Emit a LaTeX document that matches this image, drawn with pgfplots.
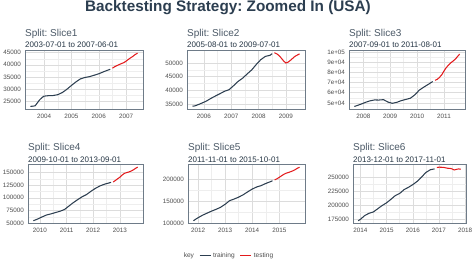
\documentclass[border=0pt]{standalone}
\usepackage{fontspec}
\setmainfont{Liberation Sans}
\usepackage{pgfplots}
\pgfplotsset{compat=1.18}
\frenchspacing
\definecolor{tqblue}{HTML}{2C3E50}
\definecolor{tqred}{HTML}{E31A1C}
\definecolor{bordercol}{HTML}{6E7B88}
\definecolor{gridmaj}{HTML}{DCDCDC}
\definecolor{gridmin}{HTML}{EEEEEE}
\definecolor{ticktext}{HTML}{4D4D4D}
\definecolor{ptitle}{HTML}{4A5866}
\pgfplotsset{
  panel/.style={
    scale only axis, height=59pt, anchor=north west,
    axis line style={draw=bordercol, line width=0.7pt},
    grid=both, minor tick num=1,
    major grid style={draw=gridmaj, line width=0.5pt},
    minor grid style={draw=gridmin, line width=0.4pt},
    major tick length=0pt, minor tick length=0pt,
    ticklabel style={font=\fontsize{6.3}{7}\selectfont, text=ticktext},
    xticklabel style={yshift=-1.5pt},
    yticklabel style={xshift=-0.5pt},
    /pgf/number format/assume math mode=true,
    /pgf/number format/fixed, /pgf/number format/1000 sep={},
    scaled ticks=false,
  },
  train/.style={draw=tqblue, line width=1.05pt},
  test/.style={draw=tqred, line width=1.05pt},
}
\newcommand{\ptitle}[3]{%
  \node[anchor=base west, inner sep=0pt, text=ptitle, font=\fontsize{10}{12}\selectfont] at (#1pt,#2pt) {#3};}
\newcommand{\psub}[3]{%
  \node[anchor=base west, inner sep=0pt, text=tqblue!85!black, font=\fontsize{8}{10}\selectfont] at (#1pt,#2pt) {#3};}
\begin{document}
\begin{tikzpicture}
\useasboundingbox (0,0) rectangle (474pt,262pt);
\node[anchor=base, inner sep=0pt, text=tqblue, font=\fontsize{15.3}{18}\selectfont\bfseries] at (228pt,250pt) {Backtesting Strategy: Zoomed In (USA)};
% ---------------- Panel 1
\begin{axis}[panel, at={(25pt,212pt)}, width=118pt,
  xmin=2003.30, xmax=2007.62, ymin=21800, ymax=46100,
  xtick={2004,2005,2006,2007}, ytick={25000,30000,35000,40000,45000}]
\addplot[train] coordinates {(2003.50,22900)(2003.58,22950)(2003.67,23100)(2003.75,24300)(2003.83,25500)(2003.92,26500)(2004.00,27100)(2004.17,27300)(2004.33,27350)(2004.50,27700)(2004.67,28600)(2004.83,29900)(2005.00,31500)(2005.17,33000)(2005.33,34200)(2005.50,34800)(2005.67,35150)(2005.83,35700)(2006.00,36300)(2006.17,37100)(2006.33,37800)(2006.42,38150)};
\addplot[test] coordinates {(2006.50,38600)(2006.58,39200)(2006.67,39700)(2006.75,40100)(2006.83,40500)(2006.92,40900)(2007.00,41500)(2007.08,42200)(2007.17,42900)(2007.25,43500)(2007.33,44200)(2007.42,44800)};
\end{axis}
% ---------------- Panel 2
\begin{axis}[panel, at={(187pt,212pt)}, width=118pt,
  xmin=2005.38, xmax=2009.70, ymin=33275, ymax=54725,
  xtick={2006,2007,2008,2009}, ytick={35000,40000,45000,50000}]
\addplot[train] coordinates {(2005.58,34300)(2005.67,34400)(2005.75,34700)(2005.92,35400)(2006.08,36100)(2006.25,37100)(2006.42,38000)(2006.58,38800)(2006.75,39700)(2006.92,40300)(2007.08,41700)(2007.25,43300)(2007.42,44500)(2007.58,46000)(2007.75,47500)(2007.92,49500)(2008.08,51200)(2008.25,52400)(2008.42,52800)(2008.50,53400)};
\addplot[test] coordinates {(2008.58,53750)(2008.67,53300)(2008.75,52700)(2008.83,51800)(2008.92,50700)(2009.00,50000)(2009.08,50300)(2009.17,51000)(2009.25,51700)(2009.33,52400)(2009.42,52900)(2009.50,53300)};
\end{axis}
% ---------------- Panel 3
\begin{axis}[panel, at={(349pt,212pt)}, width=116pt,
  xmin=2007.47, xmax=2011.78, ymin=44000, ymax=102000,
  xtick={2008,2009,2010,2011}, ytick={50000,60000,70000,80000,90000,100000},
  yticklabels={5e+04,6e+04,7e+04,8e+04,9e+04,1e+05}]
\addplot[train] coordinates {(2007.67,46500)(2007.75,47200)(2007.92,48800)(2008.08,50500)(2008.25,52000)(2008.42,52900)(2008.58,52800)(2008.75,53200)(2008.92,50800)(2009.08,49600)(2009.25,50600)(2009.42,52300)(2009.58,53400)(2009.75,54600)(2009.92,58000)(2010.08,62500)(2010.25,65500)(2010.42,68300)(2010.58,71000)};
\addplot[test] coordinates {(2010.67,72200)(2010.75,73200)(2010.83,75000)(2010.92,77800)(2011.00,81400)(2011.08,84500)(2011.17,87300)(2011.25,89300)(2011.33,91000)(2011.42,93000)(2011.50,95500)(2011.58,98000)};
\end{axis}
% ---------------- Panel 4
\begin{axis}[panel, at={(28pt,97.5pt)}, width=115pt,
  xmin=2009.55, xmax=2013.87, ymin=49500, ymax=165500,
  xtick={2010,2011,2012,2013}, ytick={50000,75000,100000,125000,150000}]
\addplot[train] coordinates {(2009.75,55000)(2009.83,56500)(2009.92,58500)(2010.08,62500)(2010.25,66300)(2010.42,68500)(2010.58,71000)(2010.75,73500)(2010.92,77000)(2011.08,83500)(2011.25,90500)(2011.42,96500)(2011.58,102000)(2011.75,106500)(2011.92,113000)(2012.08,118500)(2012.25,123300)(2012.42,126700)(2012.58,129000)(2012.67,130500)};
\addplot[test] coordinates {(2012.75,131000)(2012.83,134000)(2012.92,137500)(2013.00,140500)(2013.08,144500)(2013.17,148000)(2013.25,149500)(2013.33,150700)(2013.42,152500)(2013.50,154700)(2013.58,157500)(2013.67,160500)};
\end{axis}
% ---------------- Panel 5 (with legend)
\begin{axis}[panel, at={(188pt,97.5pt)}, width=117pt,
  xmin=2011.63, xmax=2015.95, ymin=99300, ymax=235100,
  xtick={2012,2013,2014,2015}, ytick={100000,150000,200000},
  legend columns=-1,
  legend style={at={(0.346,-0.546)}, anchor=center, draw=none, fill=none,
    font=\fontsize{6.6}{7}\selectfont, text=ticktext,
    /tikz/every even column/.append style={column sep=3pt}},
  legend image code/.code={\draw[#1] (0pt,0pt) -- (11pt,0pt);},
  legend entries={key, training, testing}]
\addlegendimage{empty legend}
\addplot[train] coordinates {(2011.83,105500)(2011.92,109500)(2012.00,112500)(2012.17,118500)(2012.33,123000)(2012.50,127800)(2012.67,132000)(2012.83,136500)(2013.00,143500)(2013.17,152000)(2013.33,155500)(2013.50,160000)(2013.67,165500)(2013.83,172000)(2014.00,178500)(2014.17,183500)(2014.33,186500)(2014.50,191400)(2014.67,195500)(2014.75,197700)};
\addplot[test] coordinates {(2014.83,199500)(2014.92,202500)(2015.00,205500)(2015.08,209000)(2015.17,212500)(2015.25,215000)(2015.33,216500)(2015.42,218500)(2015.50,220500)(2015.58,223000)(2015.67,226500)(2015.75,228900)};
\end{axis}
% ---------------- Panel 6
\begin{axis}[panel, at={(353pt,97.5pt)}, width=113pt,
  xmin=2013.72, xmax=2018.03, ymin=167000, ymax=274000,
  xtick={2014,2015,2016,2017,2018}, ytick={175000,200000,225000,250000}]
\addplot[train] coordinates {(2013.92,171900)(2014.00,174500)(2014.17,181500)(2014.33,185500)(2014.50,188000)(2014.67,194000)(2014.83,199500)(2015.00,204500)(2015.17,211000)(2015.33,217500)(2015.50,221500)(2015.67,228500)(2015.83,232500)(2016.00,237500)(2016.17,243500)(2016.33,251000)(2016.50,259500)(2016.67,264500)(2016.83,266000)};
\addplot[test] coordinates {(2016.92,268500)(2017.00,269100)(2017.08,269000)(2017.17,268800)(2017.25,268000)(2017.33,267200)(2017.42,267000)(2017.50,266000)(2017.58,264100)(2017.67,265200)(2017.75,266000)(2017.83,265400)};
\end{axis}
% ---------------- titles
\ptitle{25}{225.5}{Split: Slice1}
\psub{25}{214}{2003-07-01 to 2007-06-01}
\ptitle{187}{225.5}{Split: Slice2}
\psub{187}{214}{2005-08-01 to 2009-07-01}
\ptitle{349}{225.5}{Split: Slice3}
\psub{349}{214}{2007-09-01 to 2011-08-01}
\ptitle{28}{111.5}{Split: Slice4}
\psub{28}{99.5}{2009-10-01 to 2013-09-01}
\ptitle{188}{111.5}{Split: Slice5}
\psub{188}{99.5}{2011-11-01 to 2015-10-01}
\ptitle{353}{111.5}{Split: Slice6}
\psub{353}{99.5}{2013-12-01 to 2017-11-01}
\end{tikzpicture}
\end{document}
